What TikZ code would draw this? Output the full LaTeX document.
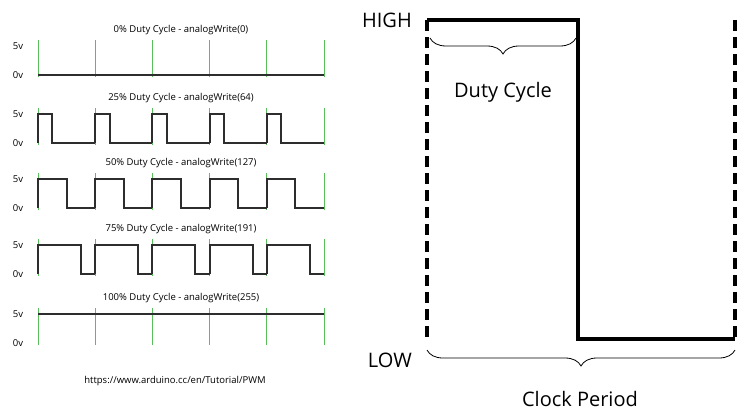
\documentclass[tikz,border=0pt]{standalone}
\usepackage{fontspec}
\setmainfont{Open Sans}
\usetikzlibrary{decorations.pathreplacing}
\definecolor{gridgreen}{RGB}{90, 190, 90}
\definecolor{wavegray}{RGB}{45, 45, 45}

\begin{document}
\begin{tikzpicture}[x=1pt, y=-1pt,
            tick/.style  = {draw=gridgreen, line width=0.8pt},
            wave/.style  = {draw=wavegray, line width=2pt},
            small/.style = {font=\fontsize{9.5}{10}\selectfont, inner sep=0pt},
            big/.style   = {font=\fontsize{20}{22}\selectfont, inner sep=0pt},
            signal/.style = {line width=3.5pt},
            dashedline/.style = {line width=3.5pt, dash pattern=on 11pt off 6pt},
            brace/.style = {decorate, decoration={brace, mirror, amplitude=16pt}, line width=0.8pt}]
        \useasboundingbox (0,0) rectangle (743,415);
        % left panel: five duty cycles
        \foreach \row/\lo/\duty/\val in {0/75/0/0, 1/143/25/64, 2/208/50/127, 3/274/75/191, 4/343/100/255}{
            \pgfmathsetmacro{\hi}{\lo-29}
            \node[small] (title\row) at (181,\hi-16) {\duty\% Duty Cycle - analogWrite(\val)};
            \node[small] (five\row) at (18,\hi) {5v};
            \node[small] (zero\row) at (18,\lo) {0v};
            \foreach \t in {38,95.2,152.4,209.6,266.8,324}
                \draw[tick] (\t,\hi-6) -- (\t,\lo+2);
            \ifnum\duty=0
                \draw[wave] (38,\lo) -- (324,\lo);
            \else\ifnum\duty=100
                \draw[wave] (38,\hi) -- (324,\hi);
            \else
                \foreach \k in {0,...,4}{
                    \pgfmathsetmacro{\s}{38+57.2*\k}
                    \pgfmathsetmacro{\e}{\s+0.572*\duty}
                    \draw[wave, line join=miter] (\s,\lo) -- (\s,\hi) -- (\e,\hi) -- (\e,\lo) -- (\s+57.2,\lo);
                }
            \fi\fi
        }
        \node[small] (url) at (175,381) {https://www.arduino.cc/en/Tutorial/PWM};
        % right panel: one period
        \node[big, anchor=east] (high) at (412,20) {HIGH};
        \node[big, anchor=east] (low) at (412,360) {LOW};
        \coordinate (start) at (427,20);
        \coordinate (edge) at (578,20);
        \coordinate (fall) at (578,339);
        \coordinate (stop) at (735,339);
        \draw[signal, line join=miter] (start) -- (edge) -- (fall) -- (stop);
        \draw[dashedline] (427,20) -- (427,339);
        \draw[dashedline] (735,20) -- (735,339);
        \draw[brace] (430,38) -- (576,38);
        \draw[brace] (427,350) -- (735,350);
        \node[big] (duty) at (503,92) {Duty Cycle};
        \node[big] (period) at (580,399) {Clock Period};
\end{tikzpicture}
\end{document}
